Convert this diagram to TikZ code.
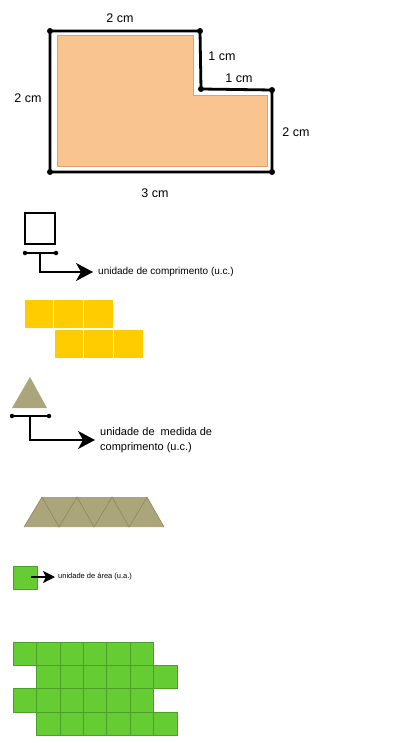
\documentclass[tikz,border=0pt]{standalone}
\usepackage{fontspec}
\setmainfont{Liberation Sans}
\usetikzlibrary{arrows.meta}

\definecolor{peach}{RGB}{250,196,145}
\definecolor{peachline}{RGB}{232,160,95}
\definecolor{gold}{RGB}{255,204,0}
\definecolor{khaki}{RGB}{170,165,122}
\definecolor{khakiline}{RGB}{140,135,95}
\definecolor{leaf}{RGB}{102,204,51}
\definecolor{leafline}{RGB}{75,160,40}

\tikzset{
    outline/.style={line width=2.8pt, line join=round},
    dot/.style={circle, fill=black, inner sep=0pt, minimum size=6pt},
    cmlabel/.style={font=\fontsize{12.5}{14}\selectfont, inner sep=1pt},
    ruler/.style={line width=1.6pt},
    pointer/.style={-{Stealth[length=17pt,width=18pt,inset=5pt]}, line width=1.3pt},
    tile/.style={fill=gold, draw=white, line width=1pt},
    cell/.style={fill=leaf, draw=leafline, line width=0.6pt}
}

\begin{document}
\begin{tikzpicture}[x=1pt, y=-1pt]
    \useasboundingbox (0,0) rectangle (403,743);

    % figura em L
    \coordinate (a) at (50,31);
    \coordinate (b) at (200,31);
    \coordinate (c) at (201,89);
    \coordinate (d) at (272,90);
    \coordinate (e) at (272,172);
    \coordinate (f) at (50,172);
    \fill[peach, draw=peachline, line width=1pt]
        (57,36) -- (193,36) -- (193,96) -- (267,96) -- (267,167) -- (57,167) -- cycle;
    \draw[outline] (a) -- (b) -- (c) -- (d) -- (e) -- (f) -- cycle;
    \foreach \p in {a,b,c,d,e,f}
        \node[dot] at (\p) {};
    \node[cmlabel] (top)    at (120,18)  {2 cm};
    \node[cmlabel] (stepv)  at (222,56)  {1 cm};
    \node[cmlabel] (steph)  at (239,78)  {1 cm};
    \node[cmlabel] (left)   at (28,98)   {2 cm};
    \node[cmlabel] (right)  at (296,132) {2 cm};
    \node[cmlabel] (bottom) at (155,193) {3 cm};

    % unidade de comprimento
    \draw[line width=1.2pt] (25,213) rectangle (55,244);
    \node[dot, minimum size=4.5pt] (ucl) at (25,253) {};
    \node[dot, minimum size=4.5pt] (ucr) at (56,253) {};
    \draw[ruler] (ucl) -- (ucr);
    \coordinate (ucmid) at (40,253);
    \node[anchor=west, font=\fontsize{10}{12}\selectfont, inner sep=5pt] (uctext) at (93,272)
        {unidade de comprimento (u.c.)};
    \draw[pointer] (ucmid) |- (uctext.west);

    % quadrados amarelos
    \foreach \i in {0,1,2} {
        \draw[tile] (24+29.7*\i,299) rectangle ++(29.7,29.7);
        \draw[tile] (54+29.7*\i,329) rectangle ++(29.7,29.7);
    }

    % unidade triangular
    \fill[khaki] (30,377) -- (47,408) -- (12,408) -- cycle;
    \node[dot, minimum size=4.5pt] (tril) at (12,416) {};
    \node[dot, minimum size=4.5pt] (trir) at (49,416) {};
    \draw[ruler] (tril) -- (trir);
    \coordinate (trimid) at (30,416);
    \node[anchor=west, align=left, font=\fontsize{11}{15}\selectfont, inner sep=5pt] (tritext) at (95,440)
        {unidade de \ medida de\\comprimento (u.c.)};
    \draw[pointer] (trimid) |- (tritext.west);

    % faixa de triangulos
    \fill[khaki] (24,527) -- (42,497) -- (147,497) -- (164,527) -- cycle;
    \draw[khakiline, line width=0.6pt]
        (24,527) -- (42,497) -- (59,527) -- (77,497) -- (94,527)
        -- (112,497) -- (129,527) -- (147,497) -- (164,527);

    % unidade de area
    \draw[cell] (13,566) rectangle (37,589);
    \coordinate (uain) at (31,577);
    \node[anchor=west, font=\fontsize{7.5}{9}\selectfont, inner sep=3pt] (uatext) at (55,577)
        {unidade de área (u.a.)};
    \draw[-{Stealth[length=12pt,width=12pt,inset=3pt]}, line width=1.1pt] (uain) -- (uatext.west);

    % malha verde
    \foreach \r in {0,1,2,3} {
        \pgfmathsetmacro{\shift}{mod(\r,2)}
        \foreach \c in {0,...,5}
            \draw[cell] (13+23.4*\c+23.4*\shift,642+23.3*\r) rectangle ++(23.4,23.3);
    }
\end{tikzpicture}
\end{document}
